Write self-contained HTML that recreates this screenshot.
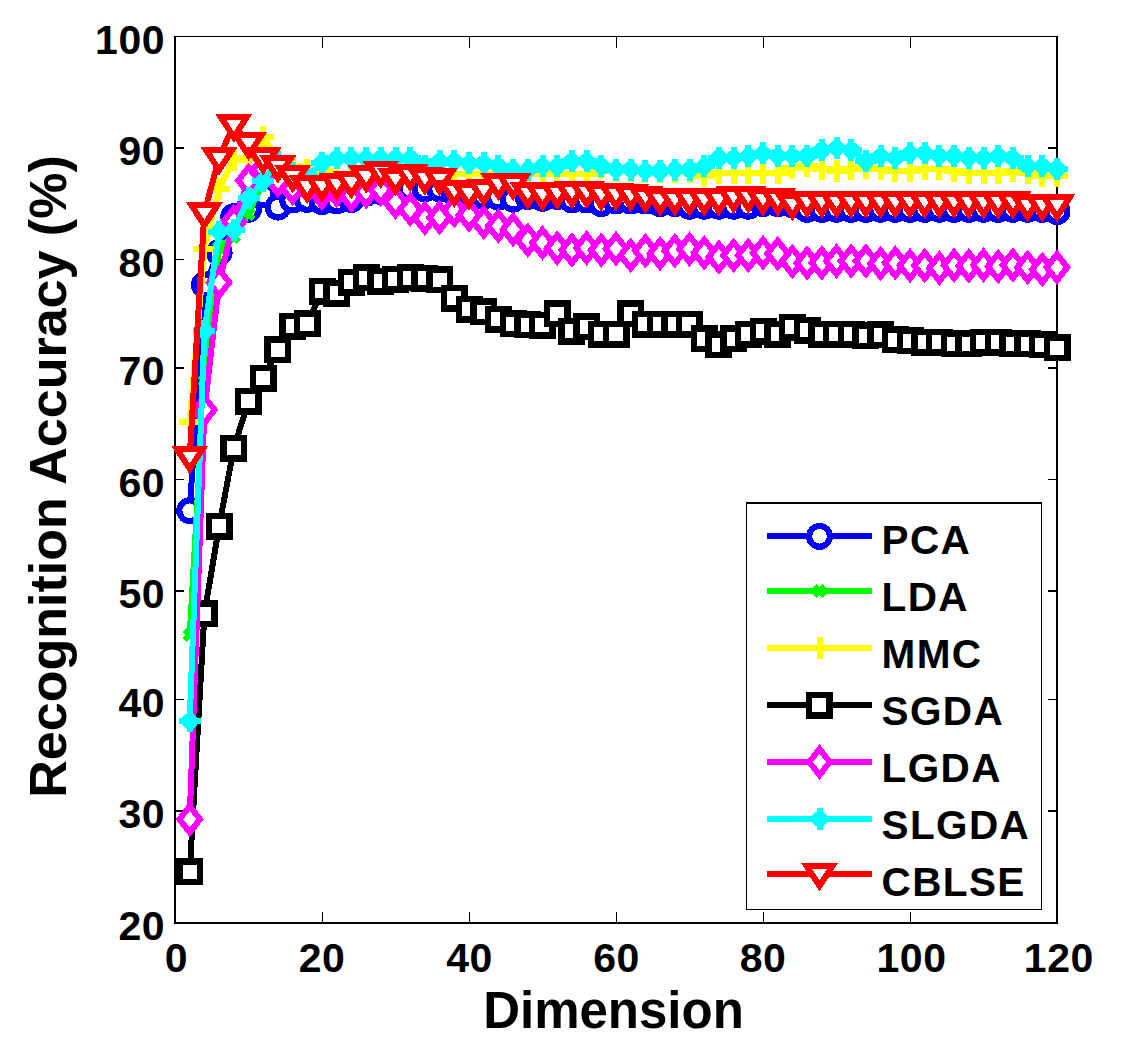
<!DOCTYPE html>
<html><head><meta charset="utf-8"><style>
html,body{margin:0;padding:0;background:#fff;overflow:hidden;}
svg{display:block;}
text{font-family:"Liberation Sans",sans-serif;font-weight:bold;fill:#000;}
.t{font-size:41px;letter-spacing:0.5px;}
.lg{font-size:40.5px;letter-spacing:1.4px;}
.al{font-size:52px;}
</style></head><body>
<svg width="1122" height="1058" viewBox="0 0 1122 1058" shape-rendering="crispEdges">
<rect width="1122" height="1058" fill="#fff"/>
<line x1="175" y1="35.5" x2="175" y2="924" stroke="#000" stroke-width="2"/>
<line x1="1057" y1="35.5" x2="1057" y2="924" stroke="#000" stroke-width="2"/>
<line x1="174" y1="36.5" x2="1058" y2="36.5" stroke="#000" stroke-width="1"/>
<line x1="174" y1="923" x2="1058" y2="923" stroke="#000" stroke-width="2"/>
<path d="M322.5 922v-10M322.5 36.5v11M469.5 922v-10M469.5 36.5v11M616.5 922v-10M616.5 36.5v11M763.5 922v-10M763.5 36.5v11M910.5 922v-10M910.5 36.5v11M176 811h8M1056 811h-8M176 699.6h8M1056 699.6h-8M176 591h8M1056 591h-8M176 479.7h8M1056 479.7h-8M176 368h8M1056 368h-8M176 259.5h8M1056 259.5h-8M176 148h8M1056 148h-8" stroke="#000" stroke-width="1.4" fill="none"/>
<polyline points="189.7,510.7 204.4,284.7 219.1,252.6 233.8,216.6 248.5,209.3 263.2,194.9 277.9,207.1 292.6,200.0 307.3,199.4 322.0,201.6 336.7,200.9 351.4,199.4 366.1,193.2 380.8,191.6 395.5,188.8 410.2,188.8 424.9,188.8 439.6,188.8 454.3,192.7 469.0,192.7 483.7,196.1 498.4,197.2 513.1,199.2 527.8,196.5 542.5,198.3 557.2,196.5 571.9,200.0 586.6,200.0 601.3,203.6 616.0,201.0 630.7,201.0 645.4,201.0 660.1,203.6 674.8,203.6 689.5,206.2 704.2,206.2 718.9,206.2 733.6,206.2 748.3,206.2 763.0,203.6 777.7,203.6 792.4,204.9 807.1,209.3 821.8,209.3 836.5,209.3 851.2,209.3 865.9,209.3 880.6,209.3 895.3,209.3 910.0,209.3 924.7,209.3 939.4,209.3 954.1,209.3 968.8,209.3 983.5,209.3 998.2,209.3 1012.9,209.3 1027.6,209.3 1042.3,209.3 1057.0,211.6" fill="none" stroke="#0000ff" stroke-width="6" stroke-linejoin="miter" stroke-miterlimit="4"/>
<g><circle cx="189.7" cy="510.7" r="10.4" fill="#fff" stroke="#0000ff" stroke-width="6.2"/><circle cx="204.4" cy="284.7" r="10.4" fill="#fff" stroke="#0000ff" stroke-width="6.2"/><circle cx="219.1" cy="252.6" r="10.4" fill="#fff" stroke="#0000ff" stroke-width="6.2"/><circle cx="233.8" cy="216.6" r="10.4" fill="#fff" stroke="#0000ff" stroke-width="6.2"/><circle cx="248.5" cy="209.3" r="10.4" fill="#fff" stroke="#0000ff" stroke-width="6.2"/><circle cx="263.2" cy="194.9" r="10.4" fill="#fff" stroke="#0000ff" stroke-width="6.2"/><circle cx="277.9" cy="207.1" r="10.4" fill="#fff" stroke="#0000ff" stroke-width="6.2"/><circle cx="292.6" cy="200.0" r="10.4" fill="#fff" stroke="#0000ff" stroke-width="6.2"/><circle cx="307.3" cy="199.4" r="10.4" fill="#fff" stroke="#0000ff" stroke-width="6.2"/><circle cx="322.0" cy="201.6" r="10.4" fill="#fff" stroke="#0000ff" stroke-width="6.2"/><circle cx="336.7" cy="200.9" r="10.4" fill="#fff" stroke="#0000ff" stroke-width="6.2"/><circle cx="351.4" cy="199.4" r="10.4" fill="#fff" stroke="#0000ff" stroke-width="6.2"/><circle cx="366.1" cy="193.2" r="10.4" fill="#fff" stroke="#0000ff" stroke-width="6.2"/><circle cx="380.8" cy="191.6" r="10.4" fill="#fff" stroke="#0000ff" stroke-width="6.2"/><circle cx="395.5" cy="188.8" r="10.4" fill="#fff" stroke="#0000ff" stroke-width="6.2"/><circle cx="410.2" cy="188.8" r="10.4" fill="#fff" stroke="#0000ff" stroke-width="6.2"/><circle cx="424.9" cy="188.8" r="10.4" fill="#fff" stroke="#0000ff" stroke-width="6.2"/><circle cx="439.6" cy="188.8" r="10.4" fill="#fff" stroke="#0000ff" stroke-width="6.2"/><circle cx="454.3" cy="192.7" r="10.4" fill="#fff" stroke="#0000ff" stroke-width="6.2"/><circle cx="469.0" cy="192.7" r="10.4" fill="#fff" stroke="#0000ff" stroke-width="6.2"/><circle cx="483.7" cy="196.1" r="10.4" fill="#fff" stroke="#0000ff" stroke-width="6.2"/><circle cx="498.4" cy="197.2" r="10.4" fill="#fff" stroke="#0000ff" stroke-width="6.2"/><circle cx="513.1" cy="199.2" r="10.4" fill="#fff" stroke="#0000ff" stroke-width="6.2"/><circle cx="527.8" cy="196.5" r="10.4" fill="#fff" stroke="#0000ff" stroke-width="6.2"/><circle cx="542.5" cy="198.3" r="10.4" fill="#fff" stroke="#0000ff" stroke-width="6.2"/><circle cx="557.2" cy="196.5" r="10.4" fill="#fff" stroke="#0000ff" stroke-width="6.2"/><circle cx="571.9" cy="200.0" r="10.4" fill="#fff" stroke="#0000ff" stroke-width="6.2"/><circle cx="586.6" cy="200.0" r="10.4" fill="#fff" stroke="#0000ff" stroke-width="6.2"/><circle cx="601.3" cy="203.6" r="10.4" fill="#fff" stroke="#0000ff" stroke-width="6.2"/><circle cx="616.0" cy="201.0" r="10.4" fill="#fff" stroke="#0000ff" stroke-width="6.2"/><circle cx="630.7" cy="201.0" r="10.4" fill="#fff" stroke="#0000ff" stroke-width="6.2"/><circle cx="645.4" cy="201.0" r="10.4" fill="#fff" stroke="#0000ff" stroke-width="6.2"/><circle cx="660.1" cy="203.6" r="10.4" fill="#fff" stroke="#0000ff" stroke-width="6.2"/><circle cx="674.8" cy="203.6" r="10.4" fill="#fff" stroke="#0000ff" stroke-width="6.2"/><circle cx="689.5" cy="206.2" r="10.4" fill="#fff" stroke="#0000ff" stroke-width="6.2"/><circle cx="704.2" cy="206.2" r="10.4" fill="#fff" stroke="#0000ff" stroke-width="6.2"/><circle cx="718.9" cy="206.2" r="10.4" fill="#fff" stroke="#0000ff" stroke-width="6.2"/><circle cx="733.6" cy="206.2" r="10.4" fill="#fff" stroke="#0000ff" stroke-width="6.2"/><circle cx="748.3" cy="206.2" r="10.4" fill="#fff" stroke="#0000ff" stroke-width="6.2"/><circle cx="763.0" cy="203.6" r="10.4" fill="#fff" stroke="#0000ff" stroke-width="6.2"/><circle cx="777.7" cy="203.6" r="10.4" fill="#fff" stroke="#0000ff" stroke-width="6.2"/><circle cx="792.4" cy="204.9" r="10.4" fill="#fff" stroke="#0000ff" stroke-width="6.2"/><circle cx="807.1" cy="209.3" r="10.4" fill="#fff" stroke="#0000ff" stroke-width="6.2"/><circle cx="821.8" cy="209.3" r="10.4" fill="#fff" stroke="#0000ff" stroke-width="6.2"/><circle cx="836.5" cy="209.3" r="10.4" fill="#fff" stroke="#0000ff" stroke-width="6.2"/><circle cx="851.2" cy="209.3" r="10.4" fill="#fff" stroke="#0000ff" stroke-width="6.2"/><circle cx="865.9" cy="209.3" r="10.4" fill="#fff" stroke="#0000ff" stroke-width="6.2"/><circle cx="880.6" cy="209.3" r="10.4" fill="#fff" stroke="#0000ff" stroke-width="6.2"/><circle cx="895.3" cy="209.3" r="10.4" fill="#fff" stroke="#0000ff" stroke-width="6.2"/><circle cx="910.0" cy="209.3" r="10.4" fill="#fff" stroke="#0000ff" stroke-width="6.2"/><circle cx="924.7" cy="209.3" r="10.4" fill="#fff" stroke="#0000ff" stroke-width="6.2"/><circle cx="939.4" cy="209.3" r="10.4" fill="#fff" stroke="#0000ff" stroke-width="6.2"/><circle cx="954.1" cy="209.3" r="10.4" fill="#fff" stroke="#0000ff" stroke-width="6.2"/><circle cx="968.8" cy="209.3" r="10.4" fill="#fff" stroke="#0000ff" stroke-width="6.2"/><circle cx="983.5" cy="209.3" r="10.4" fill="#fff" stroke="#0000ff" stroke-width="6.2"/><circle cx="998.2" cy="209.3" r="10.4" fill="#fff" stroke="#0000ff" stroke-width="6.2"/><circle cx="1012.9" cy="209.3" r="10.4" fill="#fff" stroke="#0000ff" stroke-width="6.2"/><circle cx="1027.6" cy="209.3" r="10.4" fill="#fff" stroke="#0000ff" stroke-width="6.2"/><circle cx="1042.3" cy="209.3" r="10.4" fill="#fff" stroke="#0000ff" stroke-width="6.2"/><circle cx="1057.0" cy="211.6" r="10.4" fill="#fff" stroke="#0000ff" stroke-width="6.2"/></g>
<polyline points="189.7,634.8 204.4,381.1 219.1,247.0 233.8,237.0 248.5,213.8 263.2,181.6 277.9,161.7 292.6,172.8 307.3,176.1 322.0,163.0 336.7,158.4 351.4,158.4 366.1,158.4 380.8,158.4 395.5,158.4 410.2,158.4 424.9,166.1 439.6,161.3 454.3,161.3 469.0,163.4 483.7,163.4 498.4,166.1 513.1,169.5 527.8,169.5 542.5,166.1 557.2,166.1 571.9,161.3 586.6,161.3 601.3,166.1 616.0,169.5 630.7,169.5 645.4,171.1 660.1,171.1 674.8,169.5 689.5,169.5 704.2,166.1 718.9,158.0 733.6,158.0 748.3,156.1 763.0,153.3 777.7,156.1 792.4,156.1 807.1,156.1 821.8,150.1 836.5,148.0 851.2,150.1 865.9,161.3 880.6,156.1 895.3,158.0 910.0,153.3 924.7,153.3 939.4,156.1 954.1,156.1 968.8,158.0 983.5,158.2 998.2,156.1 1012.9,158.2 1027.6,166.1 1042.3,166.1 1057.0,169.1" fill="none" stroke="#00ff00" stroke-width="6" stroke-linejoin="miter" stroke-miterlimit="4"/>
<g><path d="M184.7 629.8L194.7 639.8M184.7 639.8L194.7 629.8" stroke="#00ff00" stroke-width="6" fill="none"/><path d="M199.4 376.1L209.4 386.1M199.4 386.1L209.4 376.1" stroke="#00ff00" stroke-width="6" fill="none"/><path d="M214.1 242.0L224.1 252.0M214.1 252.0L224.1 242.0" stroke="#00ff00" stroke-width="6" fill="none"/><path d="M228.8 232.0L238.8 242.0M228.8 242.0L238.8 232.0" stroke="#00ff00" stroke-width="6" fill="none"/><path d="M243.5 208.8L253.5 218.8M243.5 218.8L253.5 208.8" stroke="#00ff00" stroke-width="6" fill="none"/><path d="M258.2 176.6L268.2 186.6M258.2 186.6L268.2 176.6" stroke="#00ff00" stroke-width="6" fill="none"/><path d="M272.9 156.7L282.9 166.7M272.9 166.7L282.9 156.7" stroke="#00ff00" stroke-width="6" fill="none"/><path d="M287.6 167.8L297.6 177.8M287.6 177.8L297.6 167.8" stroke="#00ff00" stroke-width="6" fill="none"/><path d="M302.3 171.1L312.3 181.1M302.3 181.1L312.3 171.1" stroke="#00ff00" stroke-width="6" fill="none"/><path d="M317.0 158.0L327.0 168.0M317.0 168.0L327.0 158.0" stroke="#00ff00" stroke-width="6" fill="none"/><path d="M331.7 153.4L341.7 163.4M331.7 163.4L341.7 153.4" stroke="#00ff00" stroke-width="6" fill="none"/><path d="M346.4 153.4L356.4 163.4M346.4 163.4L356.4 153.4" stroke="#00ff00" stroke-width="6" fill="none"/><path d="M361.1 153.4L371.1 163.4M361.1 163.4L371.1 153.4" stroke="#00ff00" stroke-width="6" fill="none"/><path d="M375.8 153.4L385.8 163.4M375.8 163.4L385.8 153.4" stroke="#00ff00" stroke-width="6" fill="none"/><path d="M390.5 153.4L400.5 163.4M390.5 163.4L400.5 153.4" stroke="#00ff00" stroke-width="6" fill="none"/><path d="M405.2 153.4L415.2 163.4M405.2 163.4L415.2 153.4" stroke="#00ff00" stroke-width="6" fill="none"/><path d="M419.9 161.1L429.9 171.1M419.9 171.1L429.9 161.1" stroke="#00ff00" stroke-width="6" fill="none"/><path d="M434.6 156.3L444.6 166.3M434.6 166.3L444.6 156.3" stroke="#00ff00" stroke-width="6" fill="none"/><path d="M449.3 156.3L459.3 166.3M449.3 166.3L459.3 156.3" stroke="#00ff00" stroke-width="6" fill="none"/><path d="M464.0 158.4L474.0 168.4M464.0 168.4L474.0 158.4" stroke="#00ff00" stroke-width="6" fill="none"/><path d="M478.7 158.4L488.7 168.4M478.7 168.4L488.7 158.4" stroke="#00ff00" stroke-width="6" fill="none"/><path d="M493.4 161.1L503.4 171.1M493.4 171.1L503.4 161.1" stroke="#00ff00" stroke-width="6" fill="none"/><path d="M508.1 164.5L518.1 174.5M508.1 174.5L518.1 164.5" stroke="#00ff00" stroke-width="6" fill="none"/><path d="M522.8 164.5L532.8 174.5M522.8 174.5L532.8 164.5" stroke="#00ff00" stroke-width="6" fill="none"/><path d="M537.5 161.1L547.5 171.1M537.5 171.1L547.5 161.1" stroke="#00ff00" stroke-width="6" fill="none"/><path d="M552.2 161.1L562.2 171.1M552.2 171.1L562.2 161.1" stroke="#00ff00" stroke-width="6" fill="none"/><path d="M566.9 156.3L576.9 166.3M566.9 166.3L576.9 156.3" stroke="#00ff00" stroke-width="6" fill="none"/><path d="M581.6 156.3L591.6 166.3M581.6 166.3L591.6 156.3" stroke="#00ff00" stroke-width="6" fill="none"/><path d="M596.3 161.1L606.3 171.1M596.3 171.1L606.3 161.1" stroke="#00ff00" stroke-width="6" fill="none"/><path d="M611.0 164.5L621.0 174.5M611.0 174.5L621.0 164.5" stroke="#00ff00" stroke-width="6" fill="none"/><path d="M625.7 164.5L635.7 174.5M625.7 174.5L635.7 164.5" stroke="#00ff00" stroke-width="6" fill="none"/><path d="M640.4 166.1L650.4 176.1M640.4 176.1L650.4 166.1" stroke="#00ff00" stroke-width="6" fill="none"/><path d="M655.1 166.1L665.1 176.1M655.1 176.1L665.1 166.1" stroke="#00ff00" stroke-width="6" fill="none"/><path d="M669.8 164.5L679.8 174.5M669.8 174.5L679.8 164.5" stroke="#00ff00" stroke-width="6" fill="none"/><path d="M684.5 164.5L694.5 174.5M684.5 174.5L694.5 164.5" stroke="#00ff00" stroke-width="6" fill="none"/><path d="M699.2 161.1L709.2 171.1M699.2 171.1L709.2 161.1" stroke="#00ff00" stroke-width="6" fill="none"/><path d="M713.9 153.0L723.9 163.0M713.9 163.0L723.9 153.0" stroke="#00ff00" stroke-width="6" fill="none"/><path d="M728.6 153.0L738.6 163.0M728.6 163.0L738.6 153.0" stroke="#00ff00" stroke-width="6" fill="none"/><path d="M743.3 151.1L753.3 161.1M743.3 161.1L753.3 151.1" stroke="#00ff00" stroke-width="6" fill="none"/><path d="M758.0 148.3L768.0 158.3M758.0 158.3L768.0 148.3" stroke="#00ff00" stroke-width="6" fill="none"/><path d="M772.7 151.1L782.7 161.1M772.7 161.1L782.7 151.1" stroke="#00ff00" stroke-width="6" fill="none"/><path d="M787.4 151.1L797.4 161.1M787.4 161.1L797.4 151.1" stroke="#00ff00" stroke-width="6" fill="none"/><path d="M802.1 151.1L812.1 161.1M802.1 161.1L812.1 151.1" stroke="#00ff00" stroke-width="6" fill="none"/><path d="M816.8 145.1L826.8 155.1M816.8 155.1L826.8 145.1" stroke="#00ff00" stroke-width="6" fill="none"/><path d="M831.5 143.0L841.5 153.0M831.5 153.0L841.5 143.0" stroke="#00ff00" stroke-width="6" fill="none"/><path d="M846.2 145.1L856.2 155.1M846.2 155.1L856.2 145.1" stroke="#00ff00" stroke-width="6" fill="none"/><path d="M860.9 156.3L870.9 166.3M860.9 166.3L870.9 156.3" stroke="#00ff00" stroke-width="6" fill="none"/><path d="M875.6 151.1L885.6 161.1M875.6 161.1L885.6 151.1" stroke="#00ff00" stroke-width="6" fill="none"/><path d="M890.3 153.0L900.3 163.0M890.3 163.0L900.3 153.0" stroke="#00ff00" stroke-width="6" fill="none"/><path d="M905.0 148.3L915.0 158.3M905.0 158.3L915.0 148.3" stroke="#00ff00" stroke-width="6" fill="none"/><path d="M919.7 148.3L929.7 158.3M919.7 158.3L929.7 148.3" stroke="#00ff00" stroke-width="6" fill="none"/><path d="M934.4 151.1L944.4 161.1M934.4 161.1L944.4 151.1" stroke="#00ff00" stroke-width="6" fill="none"/><path d="M949.1 151.1L959.1 161.1M949.1 161.1L959.1 151.1" stroke="#00ff00" stroke-width="6" fill="none"/><path d="M963.8 153.0L973.8 163.0M963.8 163.0L973.8 153.0" stroke="#00ff00" stroke-width="6" fill="none"/><path d="M978.5 153.2L988.5 163.2M978.5 163.2L988.5 153.2" stroke="#00ff00" stroke-width="6" fill="none"/><path d="M993.2 151.1L1003.2 161.1M993.2 161.1L1003.2 151.1" stroke="#00ff00" stroke-width="6" fill="none"/><path d="M1007.9 153.2L1017.9 163.2M1007.9 163.2L1017.9 153.2" stroke="#00ff00" stroke-width="6" fill="none"/><path d="M1022.6 161.1L1032.6 171.1M1022.6 171.1L1032.6 161.1" stroke="#00ff00" stroke-width="6" fill="none"/><path d="M1037.3 161.1L1047.3 171.1M1037.3 171.1L1047.3 161.1" stroke="#00ff00" stroke-width="6" fill="none"/><path d="M1052.0 164.1L1062.0 174.1M1052.0 174.1L1062.0 164.1" stroke="#00ff00" stroke-width="6" fill="none"/></g>
<polyline points="189.7,422.1 204.4,249.2 219.1,188.8 233.8,159.5 248.5,158.4 263.2,137.3 277.9,158.4 292.6,166.1 307.3,169.5 322.0,170.6 336.7,173.9 351.4,173.9 366.1,173.9 380.8,173.9 395.5,173.9 410.2,173.9 424.9,173.9 439.6,173.9 454.3,173.9 469.0,173.9 483.7,173.9 498.4,173.9 513.1,173.9 527.8,173.9 542.5,173.9 557.2,173.9 571.9,173.9 586.6,173.9 601.3,167.8 616.0,170.6 630.7,170.6 645.4,172.3 660.1,172.3 674.8,172.3 689.5,172.3 704.2,175.8 718.9,173.2 733.6,173.2 748.3,173.2 763.0,173.2 777.7,173.2 792.4,167.8 807.1,166.0 821.8,168.7 836.5,171.3 851.2,168.7 865.9,167.8 880.6,168.7 895.3,171.3 910.0,171.3 924.7,168.7 939.4,168.7 954.1,171.3 968.8,173.2 983.5,173.3 998.2,173.3 1012.9,171.0 1027.6,173.3 1042.3,176.3 1057.0,176.3" fill="none" stroke="#ffff00" stroke-width="6" stroke-linejoin="miter" stroke-miterlimit="4"/>
<g><path d="M189.7 411.1V433.1M178.7 422.1H200.7" stroke="#ffff00" stroke-width="6" fill="none"/><path d="M204.4 238.2V260.2M193.4 249.2H215.4" stroke="#ffff00" stroke-width="6" fill="none"/><path d="M219.1 177.8V199.8M208.1 188.8H230.1" stroke="#ffff00" stroke-width="6" fill="none"/><path d="M233.8 148.5V170.5M222.8 159.5H244.8" stroke="#ffff00" stroke-width="6" fill="none"/><path d="M248.5 147.4V169.4M237.5 158.4H259.5" stroke="#ffff00" stroke-width="6" fill="none"/><path d="M263.2 126.3V148.3M252.2 137.3H274.2" stroke="#ffff00" stroke-width="6" fill="none"/><path d="M277.9 147.4V169.4M266.9 158.4H288.9" stroke="#ffff00" stroke-width="6" fill="none"/><path d="M292.6 155.1V177.1M281.6 166.1H303.6" stroke="#ffff00" stroke-width="6" fill="none"/><path d="M307.3 158.5V180.5M296.3 169.5H318.3" stroke="#ffff00" stroke-width="6" fill="none"/><path d="M322.0 159.6V181.6M311.0 170.6H333.0" stroke="#ffff00" stroke-width="6" fill="none"/><path d="M336.7 162.9V184.9M325.7 173.9H347.7" stroke="#ffff00" stroke-width="6" fill="none"/><path d="M351.4 162.9V184.9M340.4 173.9H362.4" stroke="#ffff00" stroke-width="6" fill="none"/><path d="M366.1 162.9V184.9M355.1 173.9H377.1" stroke="#ffff00" stroke-width="6" fill="none"/><path d="M380.8 162.9V184.9M369.8 173.9H391.8" stroke="#ffff00" stroke-width="6" fill="none"/><path d="M395.5 162.9V184.9M384.5 173.9H406.5" stroke="#ffff00" stroke-width="6" fill="none"/><path d="M410.2 162.9V184.9M399.2 173.9H421.2" stroke="#ffff00" stroke-width="6" fill="none"/><path d="M424.9 162.9V184.9M413.9 173.9H435.9" stroke="#ffff00" stroke-width="6" fill="none"/><path d="M439.6 162.9V184.9M428.6 173.9H450.6" stroke="#ffff00" stroke-width="6" fill="none"/><path d="M454.3 162.9V184.9M443.3 173.9H465.3" stroke="#ffff00" stroke-width="6" fill="none"/><path d="M469.0 162.9V184.9M458.0 173.9H480.0" stroke="#ffff00" stroke-width="6" fill="none"/><path d="M483.7 162.9V184.9M472.7 173.9H494.7" stroke="#ffff00" stroke-width="6" fill="none"/><path d="M498.4 162.9V184.9M487.4 173.9H509.4" stroke="#ffff00" stroke-width="6" fill="none"/><path d="M513.1 162.9V184.9M502.1 173.9H524.1" stroke="#ffff00" stroke-width="6" fill="none"/><path d="M527.8 162.9V184.9M516.8 173.9H538.8" stroke="#ffff00" stroke-width="6" fill="none"/><path d="M542.5 162.9V184.9M531.5 173.9H553.5" stroke="#ffff00" stroke-width="6" fill="none"/><path d="M557.2 162.9V184.9M546.2 173.9H568.2" stroke="#ffff00" stroke-width="6" fill="none"/><path d="M571.9 162.9V184.9M560.9 173.9H582.9" stroke="#ffff00" stroke-width="6" fill="none"/><path d="M586.6 162.9V184.9M575.6 173.9H597.6" stroke="#ffff00" stroke-width="6" fill="none"/><path d="M601.3 156.8V178.8M590.3 167.8H612.3" stroke="#ffff00" stroke-width="6" fill="none"/><path d="M616.0 159.6V181.6M605.0 170.6H627.0" stroke="#ffff00" stroke-width="6" fill="none"/><path d="M630.7 159.6V181.6M619.7 170.6H641.7" stroke="#ffff00" stroke-width="6" fill="none"/><path d="M645.4 161.3V183.3M634.4 172.3H656.4" stroke="#ffff00" stroke-width="6" fill="none"/><path d="M660.1 161.3V183.3M649.1 172.3H671.1" stroke="#ffff00" stroke-width="6" fill="none"/><path d="M674.8 161.3V183.3M663.8 172.3H685.8" stroke="#ffff00" stroke-width="6" fill="none"/><path d="M689.5 161.3V183.3M678.5 172.3H700.5" stroke="#ffff00" stroke-width="6" fill="none"/><path d="M704.2 164.8V186.8M693.2 175.8H715.2" stroke="#ffff00" stroke-width="6" fill="none"/><path d="M718.9 162.2V184.2M707.9 173.2H729.9" stroke="#ffff00" stroke-width="6" fill="none"/><path d="M733.6 162.2V184.2M722.6 173.2H744.6" stroke="#ffff00" stroke-width="6" fill="none"/><path d="M748.3 162.2V184.2M737.3 173.2H759.3" stroke="#ffff00" stroke-width="6" fill="none"/><path d="M763.0 162.2V184.2M752.0 173.2H774.0" stroke="#ffff00" stroke-width="6" fill="none"/><path d="M777.7 162.2V184.2M766.7 173.2H788.7" stroke="#ffff00" stroke-width="6" fill="none"/><path d="M792.4 156.8V178.8M781.4 167.8H803.4" stroke="#ffff00" stroke-width="6" fill="none"/><path d="M807.1 155.0V177.0M796.1 166.0H818.1" stroke="#ffff00" stroke-width="6" fill="none"/><path d="M821.8 157.7V179.7M810.8 168.7H832.8" stroke="#ffff00" stroke-width="6" fill="none"/><path d="M836.5 160.3V182.3M825.5 171.3H847.5" stroke="#ffff00" stroke-width="6" fill="none"/><path d="M851.2 157.7V179.7M840.2 168.7H862.2" stroke="#ffff00" stroke-width="6" fill="none"/><path d="M865.9 156.8V178.8M854.9 167.8H876.9" stroke="#ffff00" stroke-width="6" fill="none"/><path d="M880.6 157.7V179.7M869.6 168.7H891.6" stroke="#ffff00" stroke-width="6" fill="none"/><path d="M895.3 160.3V182.3M884.3 171.3H906.3" stroke="#ffff00" stroke-width="6" fill="none"/><path d="M910.0 160.3V182.3M899.0 171.3H921.0" stroke="#ffff00" stroke-width="6" fill="none"/><path d="M924.7 157.7V179.7M913.7 168.7H935.7" stroke="#ffff00" stroke-width="6" fill="none"/><path d="M939.4 157.7V179.7M928.4 168.7H950.4" stroke="#ffff00" stroke-width="6" fill="none"/><path d="M954.1 160.3V182.3M943.1 171.3H965.1" stroke="#ffff00" stroke-width="6" fill="none"/><path d="M968.8 162.2V184.2M957.8 173.2H979.8" stroke="#ffff00" stroke-width="6" fill="none"/><path d="M983.5 162.3V184.3M972.5 173.3H994.5" stroke="#ffff00" stroke-width="6" fill="none"/><path d="M998.2 162.3V184.3M987.2 173.3H1009.2" stroke="#ffff00" stroke-width="6" fill="none"/><path d="M1012.9 160.0V182.0M1001.9 171.0H1023.9" stroke="#ffff00" stroke-width="6" fill="none"/><path d="M1027.6 162.3V184.3M1016.6 173.3H1038.6" stroke="#ffff00" stroke-width="6" fill="none"/><path d="M1042.3 165.3V187.3M1031.3 176.3H1053.3" stroke="#ffff00" stroke-width="6" fill="none"/><path d="M1057.0 165.3V187.3M1046.0 176.3H1068.0" stroke="#ffff00" stroke-width="6" fill="none"/></g>
<polyline points="189.7,871.9 204.4,613.8 219.1,526.2 233.8,448.1 248.5,401.3 263.2,378.3 277.9,349.7 292.6,326.2 307.3,323.7 322.0,291.1 336.7,293.0 351.4,282.3 366.1,277.9 380.8,281.4 395.5,279.2 410.2,277.9 424.9,278.4 439.6,279.8 454.3,298.4 469.0,309.1 483.7,311.8 498.4,319.2 513.1,323.9 527.8,324.6 542.5,325.4 557.2,313.7 571.9,331.4 586.6,326.9 601.3,334.4 616.0,334.4 630.7,313.7 645.4,324.0 660.1,324.0 674.8,324.0 689.5,324.0 704.2,339.0 718.9,344.5 733.6,339.0 748.3,334.4 763.0,331.3 777.7,334.4 792.4,327.2 807.1,330.1 821.8,334.4 836.5,334.4 851.2,334.4 865.9,335.7 880.6,334.6 895.3,339.8 910.0,340.5 924.7,342.4 939.4,342.4 954.1,344.0 968.8,344.0 983.5,342.4 998.2,342.4 1012.9,344.0 1027.6,344.0 1042.3,344.5 1057.0,347.5" fill="none" stroke="#000000" stroke-width="6" stroke-linejoin="miter" stroke-miterlimit="4"/>
<g><rect x="179.4" y="861.7" width="20.5" height="20.5" fill="#fff" stroke="#000000" stroke-width="6.5"/><rect x="194.2" y="603.5" width="20.5" height="20.5" fill="#fff" stroke="#000000" stroke-width="6.5"/><rect x="208.8" y="516.0" width="20.5" height="20.5" fill="#fff" stroke="#000000" stroke-width="6.5"/><rect x="223.6" y="437.9" width="20.5" height="20.5" fill="#fff" stroke="#000000" stroke-width="6.5"/><rect x="238.2" y="391.0" width="20.5" height="20.5" fill="#fff" stroke="#000000" stroke-width="6.5"/><rect x="252.9" y="368.1" width="20.5" height="20.5" fill="#fff" stroke="#000000" stroke-width="6.5"/><rect x="267.6" y="339.5" width="20.5" height="20.5" fill="#fff" stroke="#000000" stroke-width="6.5"/><rect x="282.4" y="316.0" width="20.5" height="20.5" fill="#fff" stroke="#000000" stroke-width="6.5"/><rect x="297.0" y="313.4" width="20.5" height="20.5" fill="#fff" stroke="#000000" stroke-width="6.5"/><rect x="311.8" y="280.9" width="20.5" height="20.5" fill="#fff" stroke="#000000" stroke-width="6.5"/><rect x="326.4" y="282.8" width="20.5" height="20.5" fill="#fff" stroke="#000000" stroke-width="6.5"/><rect x="341.1" y="272.0" width="20.5" height="20.5" fill="#fff" stroke="#000000" stroke-width="6.5"/><rect x="355.9" y="267.7" width="20.5" height="20.5" fill="#fff" stroke="#000000" stroke-width="6.5"/><rect x="370.5" y="271.1" width="20.5" height="20.5" fill="#fff" stroke="#000000" stroke-width="6.5"/><rect x="385.2" y="268.9" width="20.5" height="20.5" fill="#fff" stroke="#000000" stroke-width="6.5"/><rect x="399.9" y="267.7" width="20.5" height="20.5" fill="#fff" stroke="#000000" stroke-width="6.5"/><rect x="414.6" y="268.1" width="20.5" height="20.5" fill="#fff" stroke="#000000" stroke-width="6.5"/><rect x="429.3" y="269.6" width="20.5" height="20.5" fill="#fff" stroke="#000000" stroke-width="6.5"/><rect x="444.1" y="288.2" width="20.5" height="20.5" fill="#fff" stroke="#000000" stroke-width="6.5"/><rect x="458.8" y="298.8" width="20.5" height="20.5" fill="#fff" stroke="#000000" stroke-width="6.5"/><rect x="473.4" y="301.6" width="20.5" height="20.5" fill="#fff" stroke="#000000" stroke-width="6.5"/><rect x="488.1" y="308.9" width="20.5" height="20.5" fill="#fff" stroke="#000000" stroke-width="6.5"/><rect x="502.8" y="313.7" width="20.5" height="20.5" fill="#fff" stroke="#000000" stroke-width="6.5"/><rect x="517.5" y="314.3" width="20.5" height="20.5" fill="#fff" stroke="#000000" stroke-width="6.5"/><rect x="532.2" y="315.1" width="20.5" height="20.5" fill="#fff" stroke="#000000" stroke-width="6.5"/><rect x="547.0" y="303.5" width="20.5" height="20.5" fill="#fff" stroke="#000000" stroke-width="6.5"/><rect x="561.6" y="321.2" width="20.5" height="20.5" fill="#fff" stroke="#000000" stroke-width="6.5"/><rect x="576.3" y="316.7" width="20.5" height="20.5" fill="#fff" stroke="#000000" stroke-width="6.5"/><rect x="591.0" y="324.2" width="20.5" height="20.5" fill="#fff" stroke="#000000" stroke-width="6.5"/><rect x="605.8" y="324.2" width="20.5" height="20.5" fill="#fff" stroke="#000000" stroke-width="6.5"/><rect x="620.5" y="303.5" width="20.5" height="20.5" fill="#fff" stroke="#000000" stroke-width="6.5"/><rect x="635.1" y="313.8" width="20.5" height="20.5" fill="#fff" stroke="#000000" stroke-width="6.5"/><rect x="649.8" y="313.8" width="20.5" height="20.5" fill="#fff" stroke="#000000" stroke-width="6.5"/><rect x="664.5" y="313.8" width="20.5" height="20.5" fill="#fff" stroke="#000000" stroke-width="6.5"/><rect x="679.2" y="313.8" width="20.5" height="20.5" fill="#fff" stroke="#000000" stroke-width="6.5"/><rect x="693.9" y="328.7" width="20.5" height="20.5" fill="#fff" stroke="#000000" stroke-width="6.5"/><rect x="708.6" y="334.3" width="20.5" height="20.5" fill="#fff" stroke="#000000" stroke-width="6.5"/><rect x="723.4" y="328.7" width="20.5" height="20.5" fill="#fff" stroke="#000000" stroke-width="6.5"/><rect x="738.0" y="324.2" width="20.5" height="20.5" fill="#fff" stroke="#000000" stroke-width="6.5"/><rect x="752.8" y="321.1" width="20.5" height="20.5" fill="#fff" stroke="#000000" stroke-width="6.5"/><rect x="767.4" y="324.2" width="20.5" height="20.5" fill="#fff" stroke="#000000" stroke-width="6.5"/><rect x="782.1" y="317.0" width="20.5" height="20.5" fill="#fff" stroke="#000000" stroke-width="6.5"/><rect x="796.9" y="319.9" width="20.5" height="20.5" fill="#fff" stroke="#000000" stroke-width="6.5"/><rect x="811.5" y="324.2" width="20.5" height="20.5" fill="#fff" stroke="#000000" stroke-width="6.5"/><rect x="826.2" y="324.2" width="20.5" height="20.5" fill="#fff" stroke="#000000" stroke-width="6.5"/><rect x="840.9" y="324.2" width="20.5" height="20.5" fill="#fff" stroke="#000000" stroke-width="6.5"/><rect x="855.6" y="325.4" width="20.5" height="20.5" fill="#fff" stroke="#000000" stroke-width="6.5"/><rect x="870.3" y="324.3" width="20.5" height="20.5" fill="#fff" stroke="#000000" stroke-width="6.5"/><rect x="885.0" y="329.5" width="20.5" height="20.5" fill="#fff" stroke="#000000" stroke-width="6.5"/><rect x="899.8" y="330.3" width="20.5" height="20.5" fill="#fff" stroke="#000000" stroke-width="6.5"/><rect x="914.4" y="332.2" width="20.5" height="20.5" fill="#fff" stroke="#000000" stroke-width="6.5"/><rect x="929.1" y="332.2" width="20.5" height="20.5" fill="#fff" stroke="#000000" stroke-width="6.5"/><rect x="943.8" y="333.7" width="20.5" height="20.5" fill="#fff" stroke="#000000" stroke-width="6.5"/><rect x="958.5" y="333.7" width="20.5" height="20.5" fill="#fff" stroke="#000000" stroke-width="6.5"/><rect x="973.2" y="332.2" width="20.5" height="20.5" fill="#fff" stroke="#000000" stroke-width="6.5"/><rect x="987.9" y="332.2" width="20.5" height="20.5" fill="#fff" stroke="#000000" stroke-width="6.5"/><rect x="1002.6" y="333.7" width="20.5" height="20.5" fill="#fff" stroke="#000000" stroke-width="6.5"/><rect x="1017.3" y="333.7" width="20.5" height="20.5" fill="#fff" stroke="#000000" stroke-width="6.5"/><rect x="1032.0" y="334.3" width="20.5" height="20.5" fill="#fff" stroke="#000000" stroke-width="6.5"/><rect x="1046.8" y="337.3" width="20.5" height="20.5" fill="#fff" stroke="#000000" stroke-width="6.5"/></g>
<polyline points="189.7,819.3 204.4,409.9 219.1,282.5 233.8,221.5 248.5,180.5 263.2,169.5 277.9,180.5 292.6,188.3 307.3,186.1 322.0,193.3 336.7,190.5 351.4,195.5 366.1,191.6 380.8,189.4 395.5,202.1 410.2,209.3 424.9,218.2 439.6,217.4 454.3,210.5 469.0,214.9 483.7,222.3 498.4,226.0 513.1,229.5 527.8,240.2 542.5,242.8 557.2,248.1 571.9,250.0 586.6,247.9 601.3,250.1 616.0,248.7 630.7,255.3 645.4,250.8 660.1,253.6 674.8,250.8 689.5,249.1 704.2,252.7 718.9,257.1 733.6,255.3 748.3,255.3 763.0,252.7 777.7,253.6 792.4,261.5 807.1,262.9 821.8,262.9 836.5,261.0 851.2,261.0 865.9,261.0 880.6,263.6 895.3,262.9 910.0,265.5 924.7,265.5 939.4,268.1 954.1,265.3 968.8,265.9 983.5,265.0 998.2,266.5 1012.9,265.0 1027.6,267.3 1042.3,269.5 1057.0,267.3" fill="none" stroke="#ff00ff" stroke-width="6" stroke-linejoin="miter" stroke-miterlimit="4"/>
<g><polygon points="189.7,806.3 200.0,819.3 189.7,832.3 179.4,819.3" fill="#fff" stroke="#ff00ff" stroke-width="6" stroke-linejoin="miter" stroke-miterlimit="10"/><polygon points="204.4,396.9 214.7,409.9 204.4,422.9 194.1,409.9" fill="#fff" stroke="#ff00ff" stroke-width="6" stroke-linejoin="miter" stroke-miterlimit="10"/><polygon points="219.1,269.5 229.4,282.5 219.1,295.5 208.8,282.5" fill="#fff" stroke="#ff00ff" stroke-width="6" stroke-linejoin="miter" stroke-miterlimit="10"/><polygon points="233.8,208.5 244.1,221.5 233.8,234.5 223.5,221.5" fill="#fff" stroke="#ff00ff" stroke-width="6" stroke-linejoin="miter" stroke-miterlimit="10"/><polygon points="248.5,167.5 258.8,180.5 248.5,193.5 238.2,180.5" fill="#fff" stroke="#ff00ff" stroke-width="6" stroke-linejoin="miter" stroke-miterlimit="10"/><polygon points="263.2,156.5 273.5,169.5 263.2,182.5 252.9,169.5" fill="#fff" stroke="#ff00ff" stroke-width="6" stroke-linejoin="miter" stroke-miterlimit="10"/><polygon points="277.9,167.5 288.2,180.5 277.9,193.5 267.6,180.5" fill="#fff" stroke="#ff00ff" stroke-width="6" stroke-linejoin="miter" stroke-miterlimit="10"/><polygon points="292.6,175.3 302.9,188.3 292.6,201.3 282.3,188.3" fill="#fff" stroke="#ff00ff" stroke-width="6" stroke-linejoin="miter" stroke-miterlimit="10"/><polygon points="307.3,173.1 317.6,186.1 307.3,199.1 297.0,186.1" fill="#fff" stroke="#ff00ff" stroke-width="6" stroke-linejoin="miter" stroke-miterlimit="10"/><polygon points="322.0,180.3 332.3,193.3 322.0,206.3 311.7,193.3" fill="#fff" stroke="#ff00ff" stroke-width="6" stroke-linejoin="miter" stroke-miterlimit="10"/><polygon points="336.7,177.5 347.0,190.5 336.7,203.5 326.4,190.5" fill="#fff" stroke="#ff00ff" stroke-width="6" stroke-linejoin="miter" stroke-miterlimit="10"/><polygon points="351.4,182.5 361.7,195.5 351.4,208.5 341.1,195.5" fill="#fff" stroke="#ff00ff" stroke-width="6" stroke-linejoin="miter" stroke-miterlimit="10"/><polygon points="366.1,178.6 376.4,191.6 366.1,204.6 355.8,191.6" fill="#fff" stroke="#ff00ff" stroke-width="6" stroke-linejoin="miter" stroke-miterlimit="10"/><polygon points="380.8,176.4 391.1,189.4 380.8,202.4 370.5,189.4" fill="#fff" stroke="#ff00ff" stroke-width="6" stroke-linejoin="miter" stroke-miterlimit="10"/><polygon points="395.5,189.1 405.8,202.1 395.5,215.1 385.2,202.1" fill="#fff" stroke="#ff00ff" stroke-width="6" stroke-linejoin="miter" stroke-miterlimit="10"/><polygon points="410.2,196.3 420.5,209.3 410.2,222.3 399.9,209.3" fill="#fff" stroke="#ff00ff" stroke-width="6" stroke-linejoin="miter" stroke-miterlimit="10"/><polygon points="424.9,205.2 435.2,218.2 424.9,231.2 414.6,218.2" fill="#fff" stroke="#ff00ff" stroke-width="6" stroke-linejoin="miter" stroke-miterlimit="10"/><polygon points="439.6,204.4 449.9,217.4 439.6,230.4 429.3,217.4" fill="#fff" stroke="#ff00ff" stroke-width="6" stroke-linejoin="miter" stroke-miterlimit="10"/><polygon points="454.3,197.5 464.6,210.5 454.3,223.5 444.0,210.5" fill="#fff" stroke="#ff00ff" stroke-width="6" stroke-linejoin="miter" stroke-miterlimit="10"/><polygon points="469.0,201.9 479.3,214.9 469.0,227.9 458.7,214.9" fill="#fff" stroke="#ff00ff" stroke-width="6" stroke-linejoin="miter" stroke-miterlimit="10"/><polygon points="483.7,209.3 494.0,222.3 483.7,235.3 473.4,222.3" fill="#fff" stroke="#ff00ff" stroke-width="6" stroke-linejoin="miter" stroke-miterlimit="10"/><polygon points="498.4,213.0 508.7,226.0 498.4,239.0 488.1,226.0" fill="#fff" stroke="#ff00ff" stroke-width="6" stroke-linejoin="miter" stroke-miterlimit="10"/><polygon points="513.1,216.5 523.4,229.5 513.1,242.5 502.8,229.5" fill="#fff" stroke="#ff00ff" stroke-width="6" stroke-linejoin="miter" stroke-miterlimit="10"/><polygon points="527.8,227.2 538.1,240.2 527.8,253.2 517.5,240.2" fill="#fff" stroke="#ff00ff" stroke-width="6" stroke-linejoin="miter" stroke-miterlimit="10"/><polygon points="542.5,229.8 552.8,242.8 542.5,255.8 532.2,242.8" fill="#fff" stroke="#ff00ff" stroke-width="6" stroke-linejoin="miter" stroke-miterlimit="10"/><polygon points="557.2,235.1 567.5,248.1 557.2,261.1 546.9,248.1" fill="#fff" stroke="#ff00ff" stroke-width="6" stroke-linejoin="miter" stroke-miterlimit="10"/><polygon points="571.9,237.0 582.2,250.0 571.9,263.0 561.6,250.0" fill="#fff" stroke="#ff00ff" stroke-width="6" stroke-linejoin="miter" stroke-miterlimit="10"/><polygon points="586.6,234.9 596.9,247.9 586.6,260.9 576.3,247.9" fill="#fff" stroke="#ff00ff" stroke-width="6" stroke-linejoin="miter" stroke-miterlimit="10"/><polygon points="601.3,237.1 611.6,250.1 601.3,263.1 591.0,250.1" fill="#fff" stroke="#ff00ff" stroke-width="6" stroke-linejoin="miter" stroke-miterlimit="10"/><polygon points="616.0,235.7 626.3,248.7 616.0,261.7 605.7,248.7" fill="#fff" stroke="#ff00ff" stroke-width="6" stroke-linejoin="miter" stroke-miterlimit="10"/><polygon points="630.7,242.3 641.0,255.3 630.7,268.3 620.4,255.3" fill="#fff" stroke="#ff00ff" stroke-width="6" stroke-linejoin="miter" stroke-miterlimit="10"/><polygon points="645.4,237.8 655.7,250.8 645.4,263.8 635.1,250.8" fill="#fff" stroke="#ff00ff" stroke-width="6" stroke-linejoin="miter" stroke-miterlimit="10"/><polygon points="660.1,240.6 670.4,253.6 660.1,266.6 649.8,253.6" fill="#fff" stroke="#ff00ff" stroke-width="6" stroke-linejoin="miter" stroke-miterlimit="10"/><polygon points="674.8,237.8 685.1,250.8 674.8,263.8 664.5,250.8" fill="#fff" stroke="#ff00ff" stroke-width="6" stroke-linejoin="miter" stroke-miterlimit="10"/><polygon points="689.5,236.1 699.8,249.1 689.5,262.1 679.2,249.1" fill="#fff" stroke="#ff00ff" stroke-width="6" stroke-linejoin="miter" stroke-miterlimit="10"/><polygon points="704.2,239.7 714.5,252.7 704.2,265.7 693.9,252.7" fill="#fff" stroke="#ff00ff" stroke-width="6" stroke-linejoin="miter" stroke-miterlimit="10"/><polygon points="718.9,244.1 729.2,257.1 718.9,270.1 708.6,257.1" fill="#fff" stroke="#ff00ff" stroke-width="6" stroke-linejoin="miter" stroke-miterlimit="10"/><polygon points="733.6,242.3 743.9,255.3 733.6,268.3 723.3,255.3" fill="#fff" stroke="#ff00ff" stroke-width="6" stroke-linejoin="miter" stroke-miterlimit="10"/><polygon points="748.3,242.3 758.6,255.3 748.3,268.3 738.0,255.3" fill="#fff" stroke="#ff00ff" stroke-width="6" stroke-linejoin="miter" stroke-miterlimit="10"/><polygon points="763.0,239.7 773.3,252.7 763.0,265.7 752.7,252.7" fill="#fff" stroke="#ff00ff" stroke-width="6" stroke-linejoin="miter" stroke-miterlimit="10"/><polygon points="777.7,240.6 788.0,253.6 777.7,266.6 767.4,253.6" fill="#fff" stroke="#ff00ff" stroke-width="6" stroke-linejoin="miter" stroke-miterlimit="10"/><polygon points="792.4,248.5 802.7,261.5 792.4,274.5 782.1,261.5" fill="#fff" stroke="#ff00ff" stroke-width="6" stroke-linejoin="miter" stroke-miterlimit="10"/><polygon points="807.1,249.9 817.4,262.9 807.1,275.9 796.8,262.9" fill="#fff" stroke="#ff00ff" stroke-width="6" stroke-linejoin="miter" stroke-miterlimit="10"/><polygon points="821.8,249.9 832.1,262.9 821.8,275.9 811.5,262.9" fill="#fff" stroke="#ff00ff" stroke-width="6" stroke-linejoin="miter" stroke-miterlimit="10"/><polygon points="836.5,248.0 846.8,261.0 836.5,274.0 826.2,261.0" fill="#fff" stroke="#ff00ff" stroke-width="6" stroke-linejoin="miter" stroke-miterlimit="10"/><polygon points="851.2,248.0 861.5,261.0 851.2,274.0 840.9,261.0" fill="#fff" stroke="#ff00ff" stroke-width="6" stroke-linejoin="miter" stroke-miterlimit="10"/><polygon points="865.9,248.0 876.2,261.0 865.9,274.0 855.6,261.0" fill="#fff" stroke="#ff00ff" stroke-width="6" stroke-linejoin="miter" stroke-miterlimit="10"/><polygon points="880.6,250.6 890.9,263.6 880.6,276.6 870.3,263.6" fill="#fff" stroke="#ff00ff" stroke-width="6" stroke-linejoin="miter" stroke-miterlimit="10"/><polygon points="895.3,249.9 905.6,262.9 895.3,275.9 885.0,262.9" fill="#fff" stroke="#ff00ff" stroke-width="6" stroke-linejoin="miter" stroke-miterlimit="10"/><polygon points="910.0,252.5 920.3,265.5 910.0,278.5 899.7,265.5" fill="#fff" stroke="#ff00ff" stroke-width="6" stroke-linejoin="miter" stroke-miterlimit="10"/><polygon points="924.7,252.5 935.0,265.5 924.7,278.5 914.4,265.5" fill="#fff" stroke="#ff00ff" stroke-width="6" stroke-linejoin="miter" stroke-miterlimit="10"/><polygon points="939.4,255.1 949.7,268.1 939.4,281.1 929.1,268.1" fill="#fff" stroke="#ff00ff" stroke-width="6" stroke-linejoin="miter" stroke-miterlimit="10"/><polygon points="954.1,252.3 964.4,265.3 954.1,278.3 943.8,265.3" fill="#fff" stroke="#ff00ff" stroke-width="6" stroke-linejoin="miter" stroke-miterlimit="10"/><polygon points="968.8,252.9 979.1,265.9 968.8,278.9 958.5,265.9" fill="#fff" stroke="#ff00ff" stroke-width="6" stroke-linejoin="miter" stroke-miterlimit="10"/><polygon points="983.5,252.0 993.8,265.0 983.5,278.0 973.2,265.0" fill="#fff" stroke="#ff00ff" stroke-width="6" stroke-linejoin="miter" stroke-miterlimit="10"/><polygon points="998.2,253.5 1008.5,266.5 998.2,279.5 987.9,266.5" fill="#fff" stroke="#ff00ff" stroke-width="6" stroke-linejoin="miter" stroke-miterlimit="10"/><polygon points="1012.9,252.0 1023.2,265.0 1012.9,278.0 1002.6,265.0" fill="#fff" stroke="#ff00ff" stroke-width="6" stroke-linejoin="miter" stroke-miterlimit="10"/><polygon points="1027.6,254.3 1037.9,267.3 1027.6,280.3 1017.3,267.3" fill="#fff" stroke="#ff00ff" stroke-width="6" stroke-linejoin="miter" stroke-miterlimit="10"/><polygon points="1042.3,256.5 1052.6,269.5 1042.3,282.5 1032.0,269.5" fill="#fff" stroke="#ff00ff" stroke-width="6" stroke-linejoin="miter" stroke-miterlimit="10"/><polygon points="1057.0,254.3 1067.3,267.3 1057.0,280.3 1046.7,267.3" fill="#fff" stroke="#ff00ff" stroke-width="6" stroke-linejoin="miter" stroke-miterlimit="10"/></g>
<polyline points="189.7,721.2 204.4,331.2 219.1,231.5 233.8,230.4 248.5,198.3 263.2,181.1 277.9,161.7 292.6,172.8 307.3,176.1 322.0,163.0 336.7,158.4 351.4,158.4 366.1,158.4 380.8,158.4 395.5,158.4 410.2,158.4 424.9,166.1 439.6,161.3 454.3,161.3 469.0,163.4 483.7,163.4 498.4,166.1 513.1,169.5 527.8,169.5 542.5,166.1 557.2,166.1 571.9,161.3 586.6,161.3 601.3,166.1 616.0,169.5 630.7,169.5 645.4,171.1 660.1,171.1 674.8,169.5 689.5,169.5 704.2,166.1 718.9,158.0 733.6,158.0 748.3,156.1 763.0,153.3 777.7,156.1 792.4,156.1 807.1,156.1 821.8,150.1 836.5,148.0 851.2,150.1 865.9,161.3 880.6,156.1 895.3,158.0 910.0,153.3 924.7,153.3 939.4,156.1 954.1,156.1 968.8,158.0 983.5,158.2 998.2,156.1 1012.9,158.2 1027.6,166.1 1042.3,166.1 1057.0,169.1" fill="none" stroke="#00ffff" stroke-width="6" stroke-linejoin="miter" stroke-miterlimit="4"/>
<g><path d="M189.7 710.2V732.2M178.7 721.2H200.7M184.1 715.6L195.3 726.8M184.1 726.8L195.3 715.6" stroke="#00ffff" stroke-width="6" fill="none"/><path d="M204.4 320.2V342.2M193.4 331.2H215.4M198.8 325.6L210.0 336.8M198.8 336.8L210.0 325.6" stroke="#00ffff" stroke-width="6" fill="none"/><path d="M219.1 220.5V242.5M208.1 231.5H230.1M213.5 225.9L224.7 237.1M213.5 237.1L224.7 225.9" stroke="#00ffff" stroke-width="6" fill="none"/><path d="M233.8 219.4V241.4M222.8 230.4H244.8M228.2 224.8L239.4 236.0M228.2 236.0L239.4 224.8" stroke="#00ffff" stroke-width="6" fill="none"/><path d="M248.5 187.3V209.3M237.5 198.3H259.5M242.9 192.7L254.1 203.9M242.9 203.9L254.1 192.7" stroke="#00ffff" stroke-width="6" fill="none"/><path d="M263.2 170.1V192.1M252.2 181.1H274.2M257.6 175.5L268.8 186.7M257.6 186.7L268.8 175.5" stroke="#00ffff" stroke-width="6" fill="none"/><path d="M277.9 150.7V172.7M266.9 161.7H288.9M272.3 156.1L283.5 167.3M272.3 167.3L283.5 156.1" stroke="#00ffff" stroke-width="6" fill="none"/><path d="M292.6 161.8V183.8M281.6 172.8H303.6M287.0 167.2L298.2 178.4M287.0 178.4L298.2 167.2" stroke="#00ffff" stroke-width="6" fill="none"/><path d="M307.3 165.1V187.1M296.3 176.1H318.3M301.7 170.5L312.9 181.7M301.7 181.7L312.9 170.5" stroke="#00ffff" stroke-width="6" fill="none"/><path d="M322.0 152.0V174.0M311.0 163.0H333.0M316.4 157.4L327.6 168.6M316.4 168.6L327.6 157.4" stroke="#00ffff" stroke-width="6" fill="none"/><path d="M336.7 147.4V169.4M325.7 158.4H347.7M331.1 152.8L342.3 164.0M331.1 164.0L342.3 152.8" stroke="#00ffff" stroke-width="6" fill="none"/><path d="M351.4 147.4V169.4M340.4 158.4H362.4M345.8 152.8L357.0 164.0M345.8 164.0L357.0 152.8" stroke="#00ffff" stroke-width="6" fill="none"/><path d="M366.1 147.4V169.4M355.1 158.4H377.1M360.5 152.8L371.7 164.0M360.5 164.0L371.7 152.8" stroke="#00ffff" stroke-width="6" fill="none"/><path d="M380.8 147.4V169.4M369.8 158.4H391.8M375.2 152.8L386.4 164.0M375.2 164.0L386.4 152.8" stroke="#00ffff" stroke-width="6" fill="none"/><path d="M395.5 147.4V169.4M384.5 158.4H406.5M389.9 152.8L401.1 164.0M389.9 164.0L401.1 152.8" stroke="#00ffff" stroke-width="6" fill="none"/><path d="M410.2 147.4V169.4M399.2 158.4H421.2M404.6 152.8L415.8 164.0M404.6 164.0L415.8 152.8" stroke="#00ffff" stroke-width="6" fill="none"/><path d="M424.9 155.1V177.1M413.9 166.1H435.9M419.3 160.5L430.5 171.7M419.3 171.7L430.5 160.5" stroke="#00ffff" stroke-width="6" fill="none"/><path d="M439.6 150.3V172.3M428.6 161.3H450.6M434.0 155.7L445.2 166.9M434.0 166.9L445.2 155.7" stroke="#00ffff" stroke-width="6" fill="none"/><path d="M454.3 150.3V172.3M443.3 161.3H465.3M448.7 155.7L459.9 166.9M448.7 166.9L459.9 155.7" stroke="#00ffff" stroke-width="6" fill="none"/><path d="M469.0 152.4V174.4M458.0 163.4H480.0M463.4 157.8L474.6 169.0M463.4 169.0L474.6 157.8" stroke="#00ffff" stroke-width="6" fill="none"/><path d="M483.7 152.4V174.4M472.7 163.4H494.7M478.1 157.8L489.3 169.0M478.1 169.0L489.3 157.8" stroke="#00ffff" stroke-width="6" fill="none"/><path d="M498.4 155.1V177.1M487.4 166.1H509.4M492.8 160.5L504.0 171.7M492.8 171.7L504.0 160.5" stroke="#00ffff" stroke-width="6" fill="none"/><path d="M513.1 158.5V180.5M502.1 169.5H524.1M507.5 163.9L518.7 175.1M507.5 175.1L518.7 163.9" stroke="#00ffff" stroke-width="6" fill="none"/><path d="M527.8 158.5V180.5M516.8 169.5H538.8M522.2 163.9L533.4 175.1M522.2 175.1L533.4 163.9" stroke="#00ffff" stroke-width="6" fill="none"/><path d="M542.5 155.1V177.1M531.5 166.1H553.5M536.9 160.5L548.1 171.7M536.9 171.7L548.1 160.5" stroke="#00ffff" stroke-width="6" fill="none"/><path d="M557.2 155.1V177.1M546.2 166.1H568.2M551.6 160.5L562.8 171.7M551.6 171.7L562.8 160.5" stroke="#00ffff" stroke-width="6" fill="none"/><path d="M571.9 150.3V172.3M560.9 161.3H582.9M566.3 155.7L577.5 166.9M566.3 166.9L577.5 155.7" stroke="#00ffff" stroke-width="6" fill="none"/><path d="M586.6 150.3V172.3M575.6 161.3H597.6M581.0 155.7L592.2 166.9M581.0 166.9L592.2 155.7" stroke="#00ffff" stroke-width="6" fill="none"/><path d="M601.3 155.1V177.1M590.3 166.1H612.3M595.7 160.5L606.9 171.7M595.7 171.7L606.9 160.5" stroke="#00ffff" stroke-width="6" fill="none"/><path d="M616.0 158.5V180.5M605.0 169.5H627.0M610.4 163.9L621.6 175.1M610.4 175.1L621.6 163.9" stroke="#00ffff" stroke-width="6" fill="none"/><path d="M630.7 158.5V180.5M619.7 169.5H641.7M625.1 163.9L636.3 175.1M625.1 175.1L636.3 163.9" stroke="#00ffff" stroke-width="6" fill="none"/><path d="M645.4 160.1V182.1M634.4 171.1H656.4M639.8 165.5L651.0 176.7M639.8 176.7L651.0 165.5" stroke="#00ffff" stroke-width="6" fill="none"/><path d="M660.1 160.1V182.1M649.1 171.1H671.1M654.5 165.5L665.7 176.7M654.5 176.7L665.7 165.5" stroke="#00ffff" stroke-width="6" fill="none"/><path d="M674.8 158.5V180.5M663.8 169.5H685.8M669.2 163.9L680.4 175.1M669.2 175.1L680.4 163.9" stroke="#00ffff" stroke-width="6" fill="none"/><path d="M689.5 158.5V180.5M678.5 169.5H700.5M683.9 163.9L695.1 175.1M683.9 175.1L695.1 163.9" stroke="#00ffff" stroke-width="6" fill="none"/><path d="M704.2 155.1V177.1M693.2 166.1H715.2M698.6 160.5L709.8 171.7M698.6 171.7L709.8 160.5" stroke="#00ffff" stroke-width="6" fill="none"/><path d="M718.9 147.0V169.0M707.9 158.0H729.9M713.3 152.4L724.5 163.6M713.3 163.6L724.5 152.4" stroke="#00ffff" stroke-width="6" fill="none"/><path d="M733.6 147.0V169.0M722.6 158.0H744.6M728.0 152.4L739.2 163.6M728.0 163.6L739.2 152.4" stroke="#00ffff" stroke-width="6" fill="none"/><path d="M748.3 145.1V167.1M737.3 156.1H759.3M742.7 150.5L753.9 161.7M742.7 161.7L753.9 150.5" stroke="#00ffff" stroke-width="6" fill="none"/><path d="M763.0 142.3V164.3M752.0 153.3H774.0M757.4 147.7L768.6 158.9M757.4 158.9L768.6 147.7" stroke="#00ffff" stroke-width="6" fill="none"/><path d="M777.7 145.1V167.1M766.7 156.1H788.7M772.1 150.5L783.3 161.7M772.1 161.7L783.3 150.5" stroke="#00ffff" stroke-width="6" fill="none"/><path d="M792.4 145.1V167.1M781.4 156.1H803.4M786.8 150.5L798.0 161.7M786.8 161.7L798.0 150.5" stroke="#00ffff" stroke-width="6" fill="none"/><path d="M807.1 145.1V167.1M796.1 156.1H818.1M801.5 150.5L812.7 161.7M801.5 161.7L812.7 150.5" stroke="#00ffff" stroke-width="6" fill="none"/><path d="M821.8 139.1V161.1M810.8 150.1H832.8M816.2 144.5L827.4 155.7M816.2 155.7L827.4 144.5" stroke="#00ffff" stroke-width="6" fill="none"/><path d="M836.5 137.0V159.0M825.5 148.0H847.5M830.9 142.4L842.1 153.6M830.9 153.6L842.1 142.4" stroke="#00ffff" stroke-width="6" fill="none"/><path d="M851.2 139.1V161.1M840.2 150.1H862.2M845.6 144.5L856.8 155.7M845.6 155.7L856.8 144.5" stroke="#00ffff" stroke-width="6" fill="none"/><path d="M865.9 150.3V172.3M854.9 161.3H876.9M860.3 155.7L871.5 166.9M860.3 166.9L871.5 155.7" stroke="#00ffff" stroke-width="6" fill="none"/><path d="M880.6 145.1V167.1M869.6 156.1H891.6M875.0 150.5L886.2 161.7M875.0 161.7L886.2 150.5" stroke="#00ffff" stroke-width="6" fill="none"/><path d="M895.3 147.0V169.0M884.3 158.0H906.3M889.7 152.4L900.9 163.6M889.7 163.6L900.9 152.4" stroke="#00ffff" stroke-width="6" fill="none"/><path d="M910.0 142.3V164.3M899.0 153.3H921.0M904.4 147.7L915.6 158.9M904.4 158.9L915.6 147.7" stroke="#00ffff" stroke-width="6" fill="none"/><path d="M924.7 142.3V164.3M913.7 153.3H935.7M919.1 147.7L930.3 158.9M919.1 158.9L930.3 147.7" stroke="#00ffff" stroke-width="6" fill="none"/><path d="M939.4 145.1V167.1M928.4 156.1H950.4M933.8 150.5L945.0 161.7M933.8 161.7L945.0 150.5" stroke="#00ffff" stroke-width="6" fill="none"/><path d="M954.1 145.1V167.1M943.1 156.1H965.1M948.5 150.5L959.7 161.7M948.5 161.7L959.7 150.5" stroke="#00ffff" stroke-width="6" fill="none"/><path d="M968.8 147.0V169.0M957.8 158.0H979.8M963.2 152.4L974.4 163.6M963.2 163.6L974.4 152.4" stroke="#00ffff" stroke-width="6" fill="none"/><path d="M983.5 147.2V169.2M972.5 158.2H994.5M977.9 152.6L989.1 163.8M977.9 163.8L989.1 152.6" stroke="#00ffff" stroke-width="6" fill="none"/><path d="M998.2 145.1V167.1M987.2 156.1H1009.2M992.6 150.5L1003.8 161.7M992.6 161.7L1003.8 150.5" stroke="#00ffff" stroke-width="6" fill="none"/><path d="M1012.9 147.2V169.2M1001.9 158.2H1023.9M1007.3 152.6L1018.5 163.8M1007.3 163.8L1018.5 152.6" stroke="#00ffff" stroke-width="6" fill="none"/><path d="M1027.6 155.1V177.1M1016.6 166.1H1038.6M1022.0 160.5L1033.2 171.7M1022.0 171.7L1033.2 160.5" stroke="#00ffff" stroke-width="6" fill="none"/><path d="M1042.3 155.1V177.1M1031.3 166.1H1053.3M1036.7 160.5L1047.9 171.7M1036.7 171.7L1047.9 160.5" stroke="#00ffff" stroke-width="6" fill="none"/><path d="M1057.0 158.1V180.1M1046.0 169.1H1068.0M1051.4 163.5L1062.6 174.7M1051.4 174.7L1062.6 163.5" stroke="#00ffff" stroke-width="6" fill="none"/></g>
<polyline points="189.7,456.4 204.4,212.7 219.1,157.6 233.8,124.6 248.5,142.9 263.2,157.6 277.9,165.8 292.6,175.6 307.3,185.9 322.0,185.0 336.7,183.0 351.4,181.6 366.1,175.9 380.8,171.1 395.5,178.3 410.2,174.4 424.9,177.8 439.6,178.3 454.3,190.0 469.0,192.7 483.7,189.0 498.4,183.4 513.1,183.4 527.8,192.2 542.5,193.8 557.2,192.2 571.9,191.6 586.6,191.6 601.3,193.8 616.0,193.8 630.7,194.4 645.4,196.2 660.1,198.8 674.8,198.8 689.5,198.8 704.2,198.8 718.9,198.8 733.6,196.2 748.3,196.2 763.0,198.8 777.7,198.8 792.4,203.3 807.1,201.0 821.8,201.0 836.5,201.0 851.2,201.0 865.9,201.0 880.6,201.0 895.3,201.0 910.0,201.0 924.7,201.0 939.4,201.0 954.1,201.0 968.8,201.6 983.5,201.6 998.2,201.6 1012.9,201.6 1027.6,204.4 1042.3,204.4 1057.0,204.4" fill="none" stroke="#ff0000" stroke-width="6" stroke-linejoin="miter" stroke-miterlimit="4"/>
<g><polygon points="176.7,448.9 202.7,448.9 189.7,468.9" fill="#fff" stroke="#ff0000" stroke-width="6" stroke-linejoin="miter" stroke-miterlimit="10"/><polygon points="191.4,205.2 217.4,205.2 204.4,225.2" fill="#fff" stroke="#ff0000" stroke-width="6" stroke-linejoin="miter" stroke-miterlimit="10"/><polygon points="206.1,150.1 232.1,150.1 219.1,170.1" fill="#fff" stroke="#ff0000" stroke-width="6" stroke-linejoin="miter" stroke-miterlimit="10"/><polygon points="220.8,117.1 246.8,117.1 233.8,137.1" fill="#fff" stroke="#ff0000" stroke-width="6" stroke-linejoin="miter" stroke-miterlimit="10"/><polygon points="235.5,135.4 261.5,135.4 248.5,155.4" fill="#fff" stroke="#ff0000" stroke-width="6" stroke-linejoin="miter" stroke-miterlimit="10"/><polygon points="250.2,150.1 276.2,150.1 263.2,170.1" fill="#fff" stroke="#ff0000" stroke-width="6" stroke-linejoin="miter" stroke-miterlimit="10"/><polygon points="264.9,158.3 290.9,158.3 277.9,178.3" fill="#fff" stroke="#ff0000" stroke-width="6" stroke-linejoin="miter" stroke-miterlimit="10"/><polygon points="279.6,168.1 305.6,168.1 292.6,188.1" fill="#fff" stroke="#ff0000" stroke-width="6" stroke-linejoin="miter" stroke-miterlimit="10"/><polygon points="294.3,178.4 320.3,178.4 307.3,198.4" fill="#fff" stroke="#ff0000" stroke-width="6" stroke-linejoin="miter" stroke-miterlimit="10"/><polygon points="309.0,177.5 335.0,177.5 322.0,197.5" fill="#fff" stroke="#ff0000" stroke-width="6" stroke-linejoin="miter" stroke-miterlimit="10"/><polygon points="323.7,175.5 349.7,175.5 336.7,195.5" fill="#fff" stroke="#ff0000" stroke-width="6" stroke-linejoin="miter" stroke-miterlimit="10"/><polygon points="338.4,174.1 364.4,174.1 351.4,194.1" fill="#fff" stroke="#ff0000" stroke-width="6" stroke-linejoin="miter" stroke-miterlimit="10"/><polygon points="353.1,168.4 379.1,168.4 366.1,188.4" fill="#fff" stroke="#ff0000" stroke-width="6" stroke-linejoin="miter" stroke-miterlimit="10"/><polygon points="367.8,163.6 393.8,163.6 380.8,183.6" fill="#fff" stroke="#ff0000" stroke-width="6" stroke-linejoin="miter" stroke-miterlimit="10"/><polygon points="382.5,170.8 408.5,170.8 395.5,190.8" fill="#fff" stroke="#ff0000" stroke-width="6" stroke-linejoin="miter" stroke-miterlimit="10"/><polygon points="397.2,166.9 423.2,166.9 410.2,186.9" fill="#fff" stroke="#ff0000" stroke-width="6" stroke-linejoin="miter" stroke-miterlimit="10"/><polygon points="411.9,170.3 437.9,170.3 424.9,190.3" fill="#fff" stroke="#ff0000" stroke-width="6" stroke-linejoin="miter" stroke-miterlimit="10"/><polygon points="426.6,170.8 452.6,170.8 439.6,190.8" fill="#fff" stroke="#ff0000" stroke-width="6" stroke-linejoin="miter" stroke-miterlimit="10"/><polygon points="441.3,182.5 467.3,182.5 454.3,202.5" fill="#fff" stroke="#ff0000" stroke-width="6" stroke-linejoin="miter" stroke-miterlimit="10"/><polygon points="456.0,185.2 482.0,185.2 469.0,205.2" fill="#fff" stroke="#ff0000" stroke-width="6" stroke-linejoin="miter" stroke-miterlimit="10"/><polygon points="470.7,181.5 496.7,181.5 483.7,201.5" fill="#fff" stroke="#ff0000" stroke-width="6" stroke-linejoin="miter" stroke-miterlimit="10"/><polygon points="485.4,175.9 511.4,175.9 498.4,195.9" fill="#fff" stroke="#ff0000" stroke-width="6" stroke-linejoin="miter" stroke-miterlimit="10"/><polygon points="500.1,175.9 526.1,175.9 513.1,195.9" fill="#fff" stroke="#ff0000" stroke-width="6" stroke-linejoin="miter" stroke-miterlimit="10"/><polygon points="514.8,184.7 540.8,184.7 527.8,204.7" fill="#fff" stroke="#ff0000" stroke-width="6" stroke-linejoin="miter" stroke-miterlimit="10"/><polygon points="529.5,186.3 555.5,186.3 542.5,206.3" fill="#fff" stroke="#ff0000" stroke-width="6" stroke-linejoin="miter" stroke-miterlimit="10"/><polygon points="544.2,184.7 570.2,184.7 557.2,204.7" fill="#fff" stroke="#ff0000" stroke-width="6" stroke-linejoin="miter" stroke-miterlimit="10"/><polygon points="558.9,184.1 584.9,184.1 571.9,204.1" fill="#fff" stroke="#ff0000" stroke-width="6" stroke-linejoin="miter" stroke-miterlimit="10"/><polygon points="573.6,184.1 599.6,184.1 586.6,204.1" fill="#fff" stroke="#ff0000" stroke-width="6" stroke-linejoin="miter" stroke-miterlimit="10"/><polygon points="588.3,186.3 614.3,186.3 601.3,206.3" fill="#fff" stroke="#ff0000" stroke-width="6" stroke-linejoin="miter" stroke-miterlimit="10"/><polygon points="603.0,186.3 629.0,186.3 616.0,206.3" fill="#fff" stroke="#ff0000" stroke-width="6" stroke-linejoin="miter" stroke-miterlimit="10"/><polygon points="617.7,186.9 643.7,186.9 630.7,206.9" fill="#fff" stroke="#ff0000" stroke-width="6" stroke-linejoin="miter" stroke-miterlimit="10"/><polygon points="632.4,188.7 658.4,188.7 645.4,208.7" fill="#fff" stroke="#ff0000" stroke-width="6" stroke-linejoin="miter" stroke-miterlimit="10"/><polygon points="647.1,191.3 673.1,191.3 660.1,211.3" fill="#fff" stroke="#ff0000" stroke-width="6" stroke-linejoin="miter" stroke-miterlimit="10"/><polygon points="661.8,191.3 687.8,191.3 674.8,211.3" fill="#fff" stroke="#ff0000" stroke-width="6" stroke-linejoin="miter" stroke-miterlimit="10"/><polygon points="676.5,191.3 702.5,191.3 689.5,211.3" fill="#fff" stroke="#ff0000" stroke-width="6" stroke-linejoin="miter" stroke-miterlimit="10"/><polygon points="691.2,191.3 717.2,191.3 704.2,211.3" fill="#fff" stroke="#ff0000" stroke-width="6" stroke-linejoin="miter" stroke-miterlimit="10"/><polygon points="705.9,191.3 731.9,191.3 718.9,211.3" fill="#fff" stroke="#ff0000" stroke-width="6" stroke-linejoin="miter" stroke-miterlimit="10"/><polygon points="720.6,188.7 746.6,188.7 733.6,208.7" fill="#fff" stroke="#ff0000" stroke-width="6" stroke-linejoin="miter" stroke-miterlimit="10"/><polygon points="735.3,188.7 761.3,188.7 748.3,208.7" fill="#fff" stroke="#ff0000" stroke-width="6" stroke-linejoin="miter" stroke-miterlimit="10"/><polygon points="750.0,191.3 776.0,191.3 763.0,211.3" fill="#fff" stroke="#ff0000" stroke-width="6" stroke-linejoin="miter" stroke-miterlimit="10"/><polygon points="764.7,191.3 790.7,191.3 777.7,211.3" fill="#fff" stroke="#ff0000" stroke-width="6" stroke-linejoin="miter" stroke-miterlimit="10"/><polygon points="779.4,195.8 805.4,195.8 792.4,215.8" fill="#fff" stroke="#ff0000" stroke-width="6" stroke-linejoin="miter" stroke-miterlimit="10"/><polygon points="794.1,193.5 820.1,193.5 807.1,213.5" fill="#fff" stroke="#ff0000" stroke-width="6" stroke-linejoin="miter" stroke-miterlimit="10"/><polygon points="808.8,193.5 834.8,193.5 821.8,213.5" fill="#fff" stroke="#ff0000" stroke-width="6" stroke-linejoin="miter" stroke-miterlimit="10"/><polygon points="823.5,193.5 849.5,193.5 836.5,213.5" fill="#fff" stroke="#ff0000" stroke-width="6" stroke-linejoin="miter" stroke-miterlimit="10"/><polygon points="838.2,193.5 864.2,193.5 851.2,213.5" fill="#fff" stroke="#ff0000" stroke-width="6" stroke-linejoin="miter" stroke-miterlimit="10"/><polygon points="852.9,193.5 878.9,193.5 865.9,213.5" fill="#fff" stroke="#ff0000" stroke-width="6" stroke-linejoin="miter" stroke-miterlimit="10"/><polygon points="867.6,193.5 893.6,193.5 880.6,213.5" fill="#fff" stroke="#ff0000" stroke-width="6" stroke-linejoin="miter" stroke-miterlimit="10"/><polygon points="882.3,193.5 908.3,193.5 895.3,213.5" fill="#fff" stroke="#ff0000" stroke-width="6" stroke-linejoin="miter" stroke-miterlimit="10"/><polygon points="897.0,193.5 923.0,193.5 910.0,213.5" fill="#fff" stroke="#ff0000" stroke-width="6" stroke-linejoin="miter" stroke-miterlimit="10"/><polygon points="911.7,193.5 937.7,193.5 924.7,213.5" fill="#fff" stroke="#ff0000" stroke-width="6" stroke-linejoin="miter" stroke-miterlimit="10"/><polygon points="926.4,193.5 952.4,193.5 939.4,213.5" fill="#fff" stroke="#ff0000" stroke-width="6" stroke-linejoin="miter" stroke-miterlimit="10"/><polygon points="941.1,193.5 967.1,193.5 954.1,213.5" fill="#fff" stroke="#ff0000" stroke-width="6" stroke-linejoin="miter" stroke-miterlimit="10"/><polygon points="955.8,194.1 981.8,194.1 968.8,214.1" fill="#fff" stroke="#ff0000" stroke-width="6" stroke-linejoin="miter" stroke-miterlimit="10"/><polygon points="970.5,194.1 996.5,194.1 983.5,214.1" fill="#fff" stroke="#ff0000" stroke-width="6" stroke-linejoin="miter" stroke-miterlimit="10"/><polygon points="985.2,194.1 1011.2,194.1 998.2,214.1" fill="#fff" stroke="#ff0000" stroke-width="6" stroke-linejoin="miter" stroke-miterlimit="10"/><polygon points="999.9,194.1 1025.9,194.1 1012.9,214.1" fill="#fff" stroke="#ff0000" stroke-width="6" stroke-linejoin="miter" stroke-miterlimit="10"/><polygon points="1014.6,196.9 1040.6,196.9 1027.6,216.9" fill="#fff" stroke="#ff0000" stroke-width="6" stroke-linejoin="miter" stroke-miterlimit="10"/><polygon points="1029.3,196.9 1055.3,196.9 1042.3,216.9" fill="#fff" stroke="#ff0000" stroke-width="6" stroke-linejoin="miter" stroke-miterlimit="10"/><polygon points="1044.0,196.9 1070.0,196.9 1057.0,216.9" fill="#fff" stroke="#ff0000" stroke-width="6" stroke-linejoin="miter" stroke-miterlimit="10"/></g>
<text x="176.5" y="971.5" text-anchor="middle" class="t">0</text>
<text x="322.0" y="971.5" text-anchor="middle" class="t">20</text>
<text x="469.5" y="971.5" text-anchor="middle" class="t">40</text>
<text x="616.5" y="971.5" text-anchor="middle" class="t">60</text>
<text x="763.0" y="971.5" text-anchor="middle" class="t">80</text>
<text x="911.5" y="971.5" text-anchor="middle" class="t">100</text>
<text x="1058.8" y="971.5" text-anchor="middle" class="t">120</text>
<text x="165" y="940.0" text-anchor="end" class="t">20</text>
<text x="165" y="828.0" text-anchor="end" class="t">30</text>
<text x="165" y="716.6" text-anchor="end" class="t">40</text>
<text x="165" y="608.0" text-anchor="end" class="t">50</text>
<text x="165" y="496.7" text-anchor="end" class="t">60</text>
<text x="165" y="385.0" text-anchor="end" class="t">70</text>
<text x="165" y="276.5" text-anchor="end" class="t">80</text>
<text x="165" y="165.0" text-anchor="end" class="t">90</text>
<text x="165" y="53.5" text-anchor="end" class="t">100</text>
<rect x="746.5" y="503" width="295.0" height="406.5" fill="#fff" stroke="#000" stroke-width="1"/>
<line x1="746" y1="502.5" x2="1042" y2="502.5" stroke="#000" stroke-width="1"/>
<line x1="767" y1="536.4" x2="872" y2="536.4" stroke="#0000ff" stroke-width="6"/>
<circle cx="819.5" cy="536.4" r="10.4" fill="#fff" stroke="#0000ff" stroke-width="6.2"/>
<text x="881.5" y="553.5" class="lg">PCA</text>
<line x1="767" y1="590.9" x2="872" y2="590.9" stroke="#00ff00" stroke-width="6"/>
<path d="M814.5 585.9L824.5 595.9M814.5 595.9L824.5 585.9" stroke="#00ff00" stroke-width="6" fill="none"/>
<text x="881.5" y="611" class="lg">LDA</text>
<line x1="767" y1="648" x2="872" y2="648" stroke="#ffff00" stroke-width="6"/>
<path d="M819.5 637.0V659.0M808.5 648.0H830.5" stroke="#ffff00" stroke-width="6" fill="none"/>
<text x="881.5" y="667.8" class="lg">MMC</text>
<line x1="767" y1="705" x2="872" y2="705" stroke="#000000" stroke-width="6"/>
<rect x="809.2" y="694.8" width="20.5" height="20.5" fill="#fff" stroke="#000000" stroke-width="6.5"/>
<text x="881.5" y="725" class="lg">SGDA</text>
<line x1="767" y1="762" x2="872" y2="762" stroke="#ff00ff" stroke-width="6"/>
<polygon points="819.5,749.0 829.8,762.0 819.5,775.0 809.2,762.0" fill="#fff" stroke="#ff00ff" stroke-width="6" stroke-linejoin="miter" stroke-miterlimit="10"/>
<text x="881.5" y="782" class="lg">LGDA</text>
<line x1="767" y1="819" x2="872" y2="819" stroke="#00ffff" stroke-width="6"/>
<path d="M819.5 808.0V830.0M808.5 819.0H830.5M813.9 813.4L825.1 824.6M813.9 824.6L825.1 813.4" stroke="#00ffff" stroke-width="6" fill="none"/>
<text x="881.5" y="838.5" class="lg">SLGDA</text>
<line x1="767" y1="873.5" x2="872" y2="873.5" stroke="#ff0000" stroke-width="6"/>
<polygon points="806.5,866.0 832.5,866.0 819.5,886.0" fill="#fff" stroke="#ff0000" stroke-width="6" stroke-linejoin="miter" stroke-miterlimit="10"/>
<text x="881.5" y="895.8" class="lg">CBLSE</text>
<text x="613.5" y="1027.5" text-anchor="middle" style="font-size:51px" class="al">Dimension</text>
<text transform="translate(66,476.5) rotate(-90)" text-anchor="middle" class="al">Recognition Accuracy (%)</text>
</svg></body></html>
